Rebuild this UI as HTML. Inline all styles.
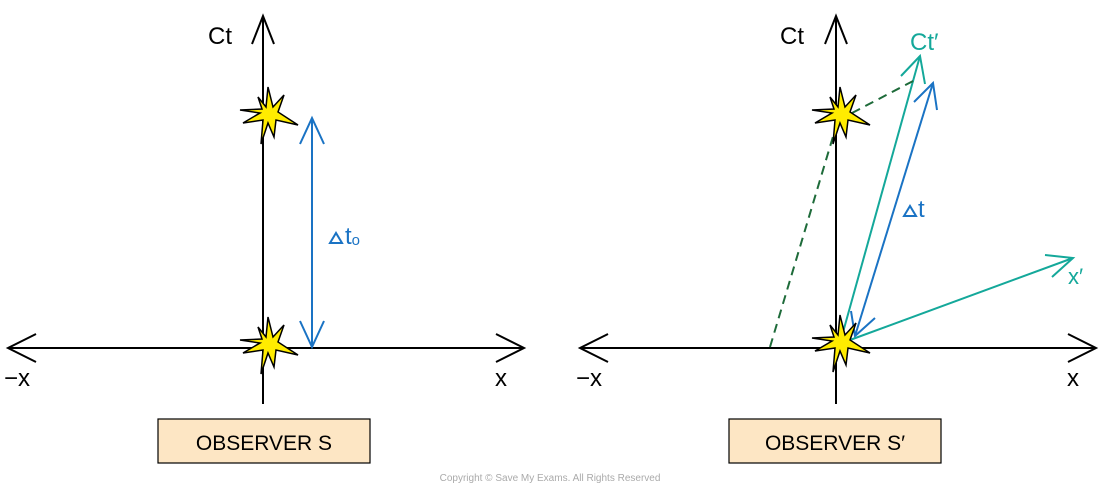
<!DOCTYPE html>
<html><head><style>
body{margin:0;background:#fff;}
svg{display:block;font-family:"Liberation Sans",sans-serif;}
</style></head><body>
<svg width="1101" height="489" viewBox="0 0 1101 489">
<defs>
<polygon id="st" points="0,-30 5,-10 16,-22 10,-5 30,8 8,3 6,20 0,6 -7,27 -5,3 -25,6 -8,-4 -28,-7 -6,-8 -10,-20 -2,-10" fill="#ffec00" stroke="#000" stroke-width="1.5" stroke-linejoin="miter"/>
</defs>
<g stroke="#000" stroke-width="2" fill="none">
<line x1="8" y1="348" x2="524" y2="348"/>
<polyline points="36,334 8,348 36,362"/><polyline points="496,334 524,348 496,362"/>
<line x1="263" y1="16" x2="263" y2="404"/>
<polyline points="252,44 263,16 274,44"/>
<line x1="580" y1="348" x2="1096" y2="348"/>
<polyline points="608,334 580,348 608,362"/><polyline points="1068,334 1096,348 1068,362"/>
<line x1="836" y1="16" x2="836" y2="404"/>
<polyline points="825,44 836,16 847,44"/>
</g>
<g font-size="24" fill="#000">
<text x="208" y="44">Ct</text><text x="780" y="44">Ct</text>
<text x="4" y="386">−x</text><text x="495" y="386">x</text>
<text x="576" y="386">−x</text><text x="1067" y="386">x</text>
</g>
<g stroke="#1a73c4" stroke-width="2" fill="none">
<line x1="312" y1="118" x2="312" y2="347"/>
<polyline points="300,144 312,118 324,144"/><polyline points="300,321 312,347 324,321"/>
<line x1="855" y1="336" x2="933" y2="83"/>
<polyline points="914,102 933,83 937,110"/><polyline points="851,311 855,336 875,318"/>
<polygon points="330,243 336,233 342,243"/>
<polygon points="904,216 910,206 916,216"/>
</g>
<text x="345" y="244" font-size="24" fill="#1a73c4">t<tspan font-size="15" dy="1">o</tspan></text>
<text x="918" y="217" font-size="24" fill="#1a73c4">t</text>
<g stroke="#14a89a" stroke-width="2" fill="none">
<line x1="840" y1="343" x2="920" y2="56"/>
<polyline points="901,76 920,56 925,84"/>
<line x1="850" y1="340" x2="1073" y2="258"/>
<polyline points="1045,255 1073,258 1052,277"/>
</g>
<text x="910" y="50" font-size="24" fill="#14a89a">Ct′</text>
<text x="1068" y="284" font-size="22" fill="#14a89a">x′</text>
<g stroke="#1e6b3a" stroke-width="2" fill="none" stroke-dasharray="9,6">
<line x1="770" y1="347" x2="835" y2="130"/>
<line x1="852" y1="113" x2="915" y2="80"/>
</g>
<use href="#st" x="268" y="117"/><use href="#st" x="268" y="347"/>
<use href="#st" x="840" y="117"/><use href="#st" x="840" y="345"/>
<g stroke="#000" stroke-width="1.2" fill="#fde6c4">
<rect x="158" y="419" width="212" height="44"/>
<rect x="729" y="419" width="212" height="44"/>
</g>
<g font-size="21" fill="#000" text-anchor="middle">
<text x="264" y="450">OBSERVER S</text>
<text x="835" y="450">OBSERVER S′</text>
</g>
<text x="550" y="481" font-size="10" fill="#aaa" text-anchor="middle">Copyright © Save My Exams. All Rights Reserved</text>
</svg>
</body></html>
